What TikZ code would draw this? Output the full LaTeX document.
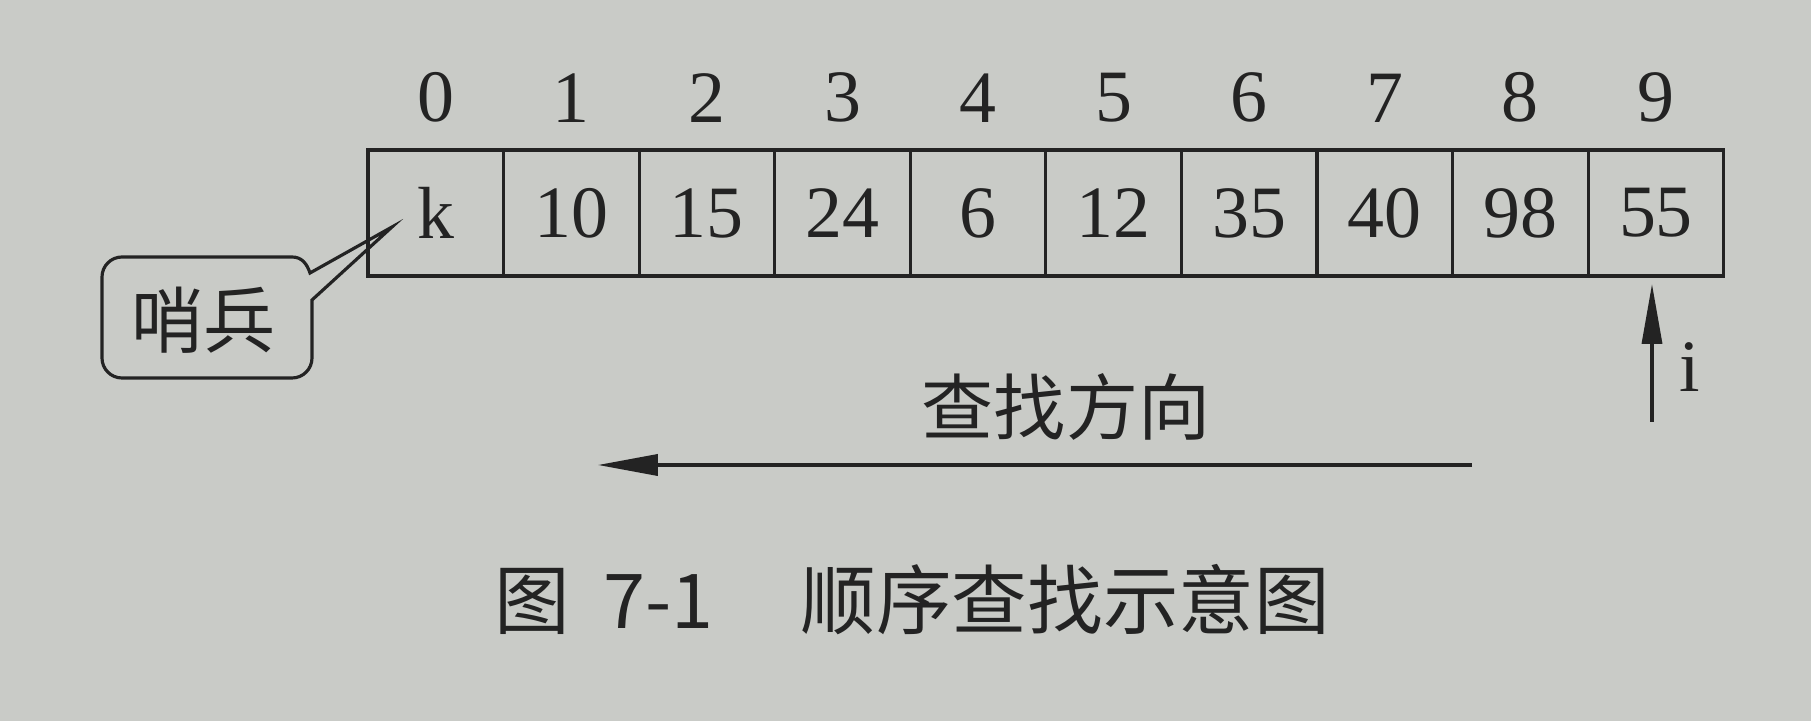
\documentclass[tikz,border=0pt]{standalone}
\usepackage{fontspec}
\setmainfont{Liberation Serif}
\newfontfamily\cjk{Noto Sans CJK SC}
\usetikzlibrary{arrows.meta, positioning}
\definecolor{paper}{RGB}{201,203,199}
\definecolor{ink}{RGB}{35,35,35}

\begin{document}
\begin{tikzpicture}[x=0.01cm, y=0.01cm,
    arrow/.style={-{Triangle[length=17pt, width=6pt]}, line width=0.9pt, draw=ink},
    cell/.style={draw=ink, line width=0.9pt, minimum width=1.355cm, minimum height=1.26cm,
                 inner sep=0pt, outer sep=0pt, text=ink, font=\fontsize{21}{24}\selectfont},
    idx/.style={font=\fontsize{21}{24}\selectfont, text=ink, inner sep=0pt},
    cjklabel/.style={font=\cjk\fontsize{20.5}{24}\selectfont, text=ink, inner sep=0pt}
]

    % Page background and frame
    \useasboundingbox (0,0) rectangle (1811,721);
    \fill[paper] (0,0) rectangle (1811,721);

    % Array cells, k is the sentinel in cell 0
    \node[cell] (c0) at (435.75,508) {k};
    \node[cell, right=0pt of c0] (c1) {10};
    \node[cell, right=0pt of c1] (c2) {15};
    \node[cell, right=0pt of c2] (c3) {24};
    \node[cell, right=0pt of c3] (c4) {6};
    \node[cell, right=0pt of c4] (c5) {12};
    \node[cell, right=0pt of c5] (c6) {35};
    \node[cell, right=0pt of c6] (c7) {40};
    \node[cell, right=0pt of c7] (c8) {98};
    \node[cell, right=0pt of c8] (c9) {55};

    % Index labels above the cells
    \node[idx, above=0.27cm of c0] (i0) {0};
    \node[idx, above=0.27cm of c1] (i1) {1};
    \node[idx, above=0.27cm of c2] (i2) {2};
    \node[idx, above=0.27cm of c3] (i3) {3};
    \node[idx, above=0.27cm of c4] (i4) {4};
    \node[idx, above=0.27cm of c5] (i5) {5};
    \node[idx, above=0.27cm of c6] (i6) {6};
    \node[idx, above=0.27cm of c7] (i7) {7};
    \node[idx, above=0.27cm of c8] (i8) {8};
    \node[idx, above=0.27cm of c9] (i9) {9};

    % Sentinel callout pointing into cell 0
    \node[cjklabel] (sentinel) at (204,401) {哨兵};
    \coordinate (tip) at ([xshift=0.24cm, yshift=-0.14cm]c0.west);
    \draw[draw=ink, line width=0.9pt] (tip) -- (312,421) -- (312,363)
        arc[start angle=0, end angle=-90, radius=0.2cm] -- (122,343)
        arc[start angle=270, end angle=180, radius=0.2cm] -- (102,444)
        arc[start angle=180, end angle=90, radius=0.2cm] -- (292,464)
        .. controls (302,464) and (307,457) .. (310,448) -- cycle;

    % Pointer i below the last cell
    \coordinate (i_tail) at (1652,299);
    \draw[arrow, -{Triangle[length=17pt, width=5.7pt]}, shorten >=0.08cm] (i_tail) -- (i_tail |- c9.south);
    \node[idx] (i_lbl) at (1690,354) {i};

    % Search direction
    \node[cjklabel] (dir_lbl) at (1066,314) {查找方向};
    \coordinate (dir_start) at (1472,256);
    \coordinate (dir_end) at (598,256);
    \draw[arrow] (dir_start) -- (dir_end);

    % Caption
    \node[font=\cjk\fontsize{21.5}{26}\selectfont, text=ink, inner sep=0pt] (caption) at (912,121)
        {图\hspace{0.45em}7-1\hspace{1.15em}顺序查找示意图};

\end{tikzpicture}
\end{document}
